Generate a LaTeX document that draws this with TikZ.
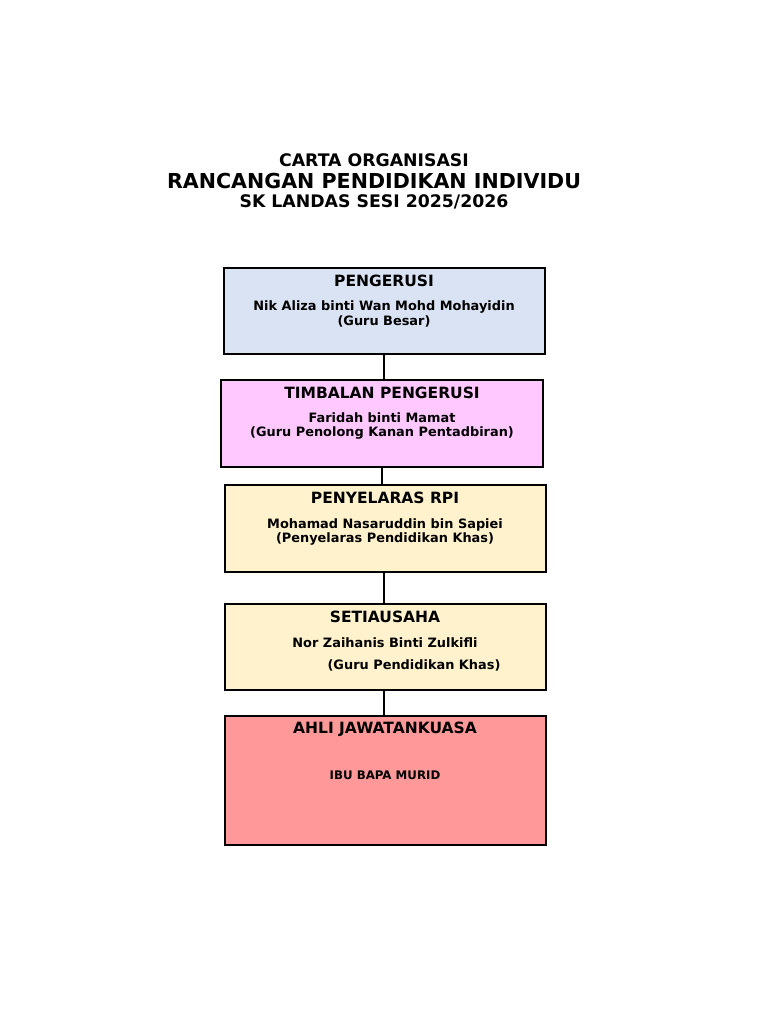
\documentclass[tikz,border=0pt]{standalone}
\usepackage{fontspec}
\setmainfont{DejaVu Sans}
\begin{document}
\begin{tikzpicture}[x=1pt,y=-1pt,
  box/.style={draw=black,line width=1.5pt},
  ttl/.style={font=\bfseries\fontsize{15.5}{17}\selectfont},
  bdy/.style={font=\bfseries\fontsize{12.9}{14.5}\selectfont,align=center},
  conn/.style={line width=2.5pt}]
\useasboundingbox (0,0) rectangle (768,1024);
\node[font=\bfseries\fontsize{17.3}{18}\selectfont] (t1) at (374,160) {CARTA ORGANISASI};
\node[font=\bfseries\fontsize{20.6}{21}\selectfont] (t2) at (374,181) {RANCANGAN PENDIDIKAN INDIVIDU};
\node[font=\bfseries\fontsize{17.3}{18}\selectfont] (t3) at (374,202) {SK LANDAS SESI 2025/2026};

\draw[box,fill={rgb,255:red,218;green,227;blue,243}] (224,268) rectangle (545,354);
\coordinate (b1t) at (384,268); \coordinate (b1b) at (384,354);
\node[ttl] (h1) at (384,281) {PENGERUSI};
\node[bdy] (d1) at (384,314) {Nik Aliza binti Wan Mohd Mohayidin\\(Guru Besar)};

\draw[box,fill={rgb,255:red,255;green,200;blue,255}] (221,380) rectangle (543,467);
\coordinate (b2t) at (384,380); \coordinate (b2b) at (382,467);
\node[ttl] (h2) at (382,393) {TIMBALAN PENGERUSI};
\node[bdy] (d2) at (382,426) {Faridah binti Mamat\\(Guru Penolong Kanan Pentadbiran)};

\draw[box,fill={rgb,255:red,255;green,242;blue,204}] (225,485) rectangle (546,572);
\coordinate (b3t) at (382,485); \coordinate (b3b) at (384,572);
\node[ttl] (h3) at (385,498) {PENYELARAS RPI};
\node[bdy] (d3) at (385,532) {Mohamad Nasaruddin bin Sapiei\\(Penyelaras Pendidikan Khas)};

\draw[box,fill={rgb,255:red,255;green,242;blue,204}] (225,604) rectangle (546,690);
\coordinate (b4t) at (384,604); \coordinate (b4b) at (384,690);
\node[ttl] (h4) at (385,617) {SETIAUSAHA};
\node[bdy] (d4a) at (385,643) {Nor Zaihanis Binti Zulkifli};
\node[bdy] (d4b) at (414,665) {(Guru Pendidikan Khas)};

\draw[box,fill={rgb,255:red,255;green,153;blue,153}] (225,716) rectangle (546,845);
\coordinate (b5t) at (384,716);
\node[ttl] (h5) at (385,729) {AHLI JAWATANKUASA};
\node[font=\bfseries\fontsize{11.8}{12}\selectfont] (d5) at (385,775) {IBU BAPA MURID};

\draw[conn] (b1b) -- (b2t);
\draw[conn] (b2b) -- (b3t);
\draw[conn] (b3b) -- (b4t);
\draw[conn] (b4b) -- (b5t);
\end{tikzpicture}
\end{document}
